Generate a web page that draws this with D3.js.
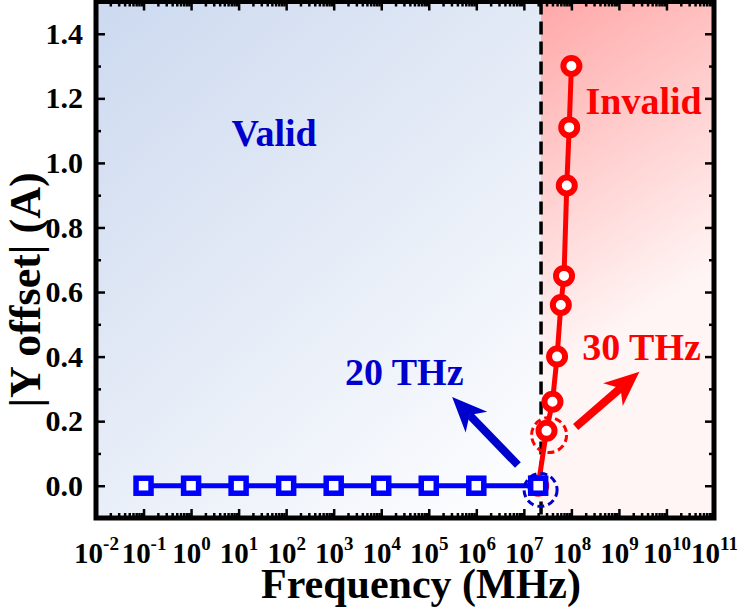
<!DOCTYPE html>
<html>
<head>
    <title>Y offset vs frequency</title>
    <script src="https://cdnjs.cloudflare.com/ajax/libs/d3/7.8.5/d3.min.js"></script>
    <style>
        body { margin: 0; background: white; }
        svg { display: block; }
        text { font-family: "Liberation Serif", "Times New Roman", serif; font-weight: bold; }
    </style>
</head>
<body>
    <svg width="740" height="608"></svg>

    <script>
        // data (frequency in MHz, |Y offset| in A)
        const validFreq = [1e-1, 1e0, 1e1, 1e2, 1e3, 1e4, 1e5, 1e6, 2e7];
        const validVal = [0, 0, 0, 0, 0, 0, 0, 0, 0];
        const invalidFreq = [2e7, 3e7, 4e7, 5e7, 6e7, 7e7, 8e7, 9e7, 1e8];
        const invalidVal = [0, 0.17, 0.26, 0.40, 0.56, 0.65, 0.93, 1.11, 1.30];
        const boundary = 2.3e7;
        const xDomain = [1e-2, 1e11];
        const yDomain = [-0.1, 1.5];
        const xExponents = d3.range(-2, 12);
        const yTicks = [0, 0.2, 0.4, 0.6, 0.8, 1.0, 1.2, 1.4];

        const svg = d3.select("svg");
        const pLeft = 96, pRight = 714, pTop = 1.5, pBottom = 518;

        const x = d3.scaleLog().domain(xDomain).range([pLeft, pRight]);
        const y = d3.scaleLinear().domain(yDomain).range([pBottom, pTop]);
        const xb0 = x(boundary);

        // background shading
        const defs = svg.append("defs");
        let g1 = defs.append("linearGradient").attr("id", "validBg")
            .attr("gradientUnits", "userSpaceOnUse")
            .attr("x1", pLeft).attr("y1", pTop).attr("x2", xb0).attr("y2", pBottom);
        g1.append("stop").attr("offset", 0).attr("stop-color", "#ccd9ef");
        g1.append("stop").attr("offset", 1).attr("stop-color", "#ffffff");
        let g2 = defs.append("linearGradient").attr("id", "invalidBg")
            .attr("gradientUnits", "userSpaceOnUse")
            .attr("x1", xb0).attr("y1", pTop).attr("x2", pRight).attr("y2", 270);
        g2.append("stop").attr("offset", 0).attr("stop-color", "#ffa8a8");
        g2.append("stop").attr("offset", 1).attr("stop-color", "#fff5f5");

        svg.append("rect").attr("x", pLeft).attr("y", pTop)
            .attr("width", xb0 - pLeft).attr("height", pBottom - pTop)
            .attr("fill", "url(#validBg)");
        svg.append("rect").attr("x", xb0).attr("y", pTop)
            .attr("width", pRight - xb0).attr("height", pBottom - pTop)
            .attr("fill", "url(#invalidBg)");

        // boundary line
        svg.append("line")
            .attr("x1", xb0).attr("x2", xb0)
            .attr("y1", pTop).attr("y2", pBottom)
            .attr("stroke", "black").attr("stroke-width", 3.5)
            .attr("stroke-dasharray", "13,7");

        const line = d3.line().x(d => x(d[0])).y(d => y(d[1]));

        // invalid series (red circles)
        const redPts = d3.zip(invalidFreq, invalidVal);
        svg.append("path").datum(redPts).attr("d", line)
            .attr("fill", "none").attr("stroke", "#ff0000").attr("stroke-width", 5);
        svg.selectAll(".red").data(redPts).enter().append("circle")
            .attr("cx", d => x(d[0])).attr("cy", d => y(d[1])).attr("r", 8)
            .attr("fill", "white").attr("stroke", "#ff0000").attr("stroke-width", 6);

        // valid series (blue squares)
        const bluePts = d3.zip(validFreq, validVal);
        svg.append("path").datum(bluePts).attr("d", line)
            .attr("fill", "none").attr("stroke", "#0000ff").attr("stroke-width", 5);
        svg.selectAll(".blue").data(bluePts).enter().append("rect")
            .attr("x", d => x(d[0]) - 7.5).attr("y", d => y(d[1]) - 7.5)
            .attr("width", 15).attr("height", 15)
            .attr("fill", "white").attr("stroke", "#0000ff").attr("stroke-width", 5.5);

        // dashed highlight circles
        svg.append("circle").attr("cx", x(2.25e7)).attr("cy", y(-0.013)).attr("r", 16.5)
            .attr("fill", "none").attr("stroke", "#0000cc").attr("stroke-width", 3)
            .attr("stroke-dasharray", "7,4");
        svg.append("circle").attr("cx", x(3.4e7)).attr("cy", y(0.157)).attr("r", 17.5)
            .attr("fill", "none").attr("stroke", "#ff0000").attr("stroke-width", 3)
            .attr("stroke-dasharray", "7,4");

        // arrows
        function arrow(from, to, color) {
            let x1 = x(from[0]), y1 = y(from[1]), x2 = x(to[0]), y2 = y(to[1]);
            let dx = x2 - x1, dy = y2 - y1, len = Math.hypot(dx, dy);
            let ux = dx / len, uy = dy / len, px = -uy, py = ux;
            let L = 35, W = 15, N = 10;
            let bx = x2 - ux * L, by = y2 - uy * L;
            svg.append("line").attr("x1", x1).attr("y1", y1)
                .attr("x2", x2 - ux * (L - N)).attr("y2", y2 - uy * (L - N))
                .attr("stroke", color).attr("stroke-width", 8);
            let pts = [[x2, y2], [bx + px * W, by + py * W],
                       [x2 - ux * (L - N), y2 - uy * (L - N)], [bx - px * W, by - py * W]];
            svg.append("polygon").attr("points", pts.map(p => p.join(",")).join(" "))
                .attr("fill", color);
        }
        arrow([7.5e6, 0.064], [3.1e5, 0.275], "#0000cc");
        arrow([1.23e8, 0.182], [2.7e9, 0.353], "#ff0000");

        // labels inside the plot
        function label(t, pos, color) {
            svg.append("text").attr("x", x(pos[0])).attr("y", y(pos[1]))
                .attr("text-anchor", "middle").attr("font-size", 38)
                .attr("fill", color).text(t);
        }
        label("Valid", [55.7, 1.053], "#0000cc");
        label("Invalid", [3.3e9, 1.15], "#ff0000");
        label("20 THz", [3.05e4, 0.312], "#0000cc");
        label("30 THz", [3.0e9, 0.39], "#ff0000");

        // axes: ticks point inward, mirrored on top and right
        const xMajor = xExponents.map(e => Math.pow(10, e));
        const xMinor = [];
        xExponents.slice(0, -1).forEach(e => {
            for (let k = 2; k <= 9; k++) xMinor.push(k * Math.pow(10, e));
        });
        const yMinor = d3.range(-1, 16, 2).map(v => v / 10);

        function styleAxis(g) {
            g.select(".domain").remove();
            g.selectAll("line").attr("stroke", "black").attr("stroke-width", 2.5);
        }

        let xAx = svg.append("g").attr("transform", `translate(0,${pBottom})`)
            .call(d3.axisBottom(x).tickValues(xMajor).tickSizeInner(-9).tickSizeOuter(0)
                .tickFormat(d => Math.round(Math.log10(d))));
        styleAxis(xAx);
        xAx.selectAll("text").each(function (d) {
            let t = d3.select(this);
            let e = Math.round(Math.log10(d));
            t.text(null).attr("y", 45).attr("dy", 0)
                .attr("font-size", 29).attr("fill", "black");
            t.append("tspan").text("10");
            t.append("tspan").attr("dy", -13).attr("font-size", 19).text(e);
        });
        svg.append("g").attr("transform", `translate(0,${pBottom})`)
            .call(d3.axisBottom(x).tickValues(xMinor).tickSizeInner(-5).tickSizeOuter(0).tickFormat(""))
            .call(styleAxis);
        svg.append("g").attr("transform", `translate(0,${pTop})`)
            .call(d3.axisTop(x).tickValues(xMajor).tickSizeInner(-9).tickSizeOuter(0).tickFormat(""))
            .call(styleAxis);
        svg.append("g").attr("transform", `translate(0,${pTop})`)
            .call(d3.axisTop(x).tickValues(xMinor).tickSizeInner(-5).tickSizeOuter(0).tickFormat(""))
            .call(styleAxis);

        let yl = svg.append("g").attr("transform", `translate(${pLeft},0)`)
            .call(d3.axisLeft(y).tickValues(yTicks).tickSizeInner(-9).tickSizeOuter(0)
                .tickPadding(13).tickFormat(d3.format(".1f")));
        styleAxis(yl);
        yl.selectAll("text").attr("font-size", 30).attr("fill", "black");
        svg.append("g").attr("transform", `translate(${pLeft},0)`)
            .call(d3.axisLeft(y).tickValues(yMinor).tickSizeInner(-5).tickSizeOuter(0).tickFormat(""))
            .call(styleAxis);
        svg.append("g").attr("transform", `translate(${pRight},0)`)
            .call(d3.axisRight(y).tickValues(yTicks).tickSizeInner(-9).tickSizeOuter(0).tickFormat(""))
            .call(styleAxis);
        svg.append("g").attr("transform", `translate(${pRight},0)`)
            .call(d3.axisRight(y).tickValues(yMinor).tickSizeInner(-5).tickSizeOuter(0).tickFormat(""))
            .call(styleAxis);

        // frame
        svg.append("rect").attr("x", pLeft).attr("y", pTop)
            .attr("width", pRight - pLeft).attr("height", pBottom - pTop)
            .attr("fill", "none").attr("stroke", "black").attr("stroke-width", 5);

        // axis titles
        svg.append("text").attr("x", 421).attr("y", 598)
            .attr("text-anchor", "middle").attr("font-size", 42)
            .text("Frequency (MHz)");
        svg.append("text").attr("transform", "translate(40,290) rotate(-90)")
            .attr("text-anchor", "middle").attr("font-size", 44)
            .text("|Y offset| (A)");
    </script>
</body>
</html>
